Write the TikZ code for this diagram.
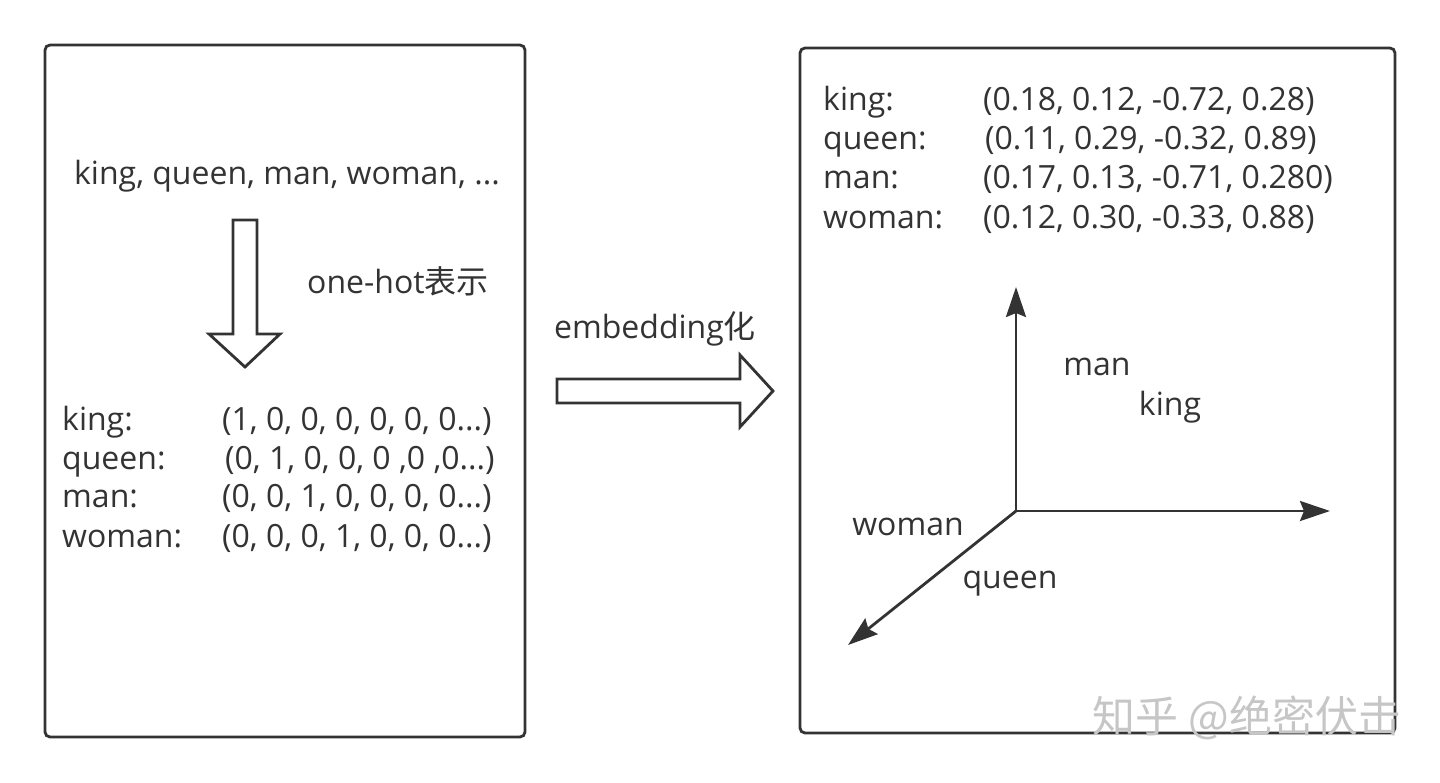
\documentclass[tikz,border=0pt]{standalone}
\usepackage{fontspec}
\setmainfont{Open Sans}
\newfontfamily\cjk{Noto Sans CJK SC}
\usetikzlibrary{arrows.meta}

\definecolor{ink}{HTML}{333333}

\begin{document}
\begin{tikzpicture}[x=1pt,y=-1pt,>={Stealth[length=30pt,width=20pt,inset=4pt]},
  txt/.style={text=ink,font=\fontsize{32}{38}\selectfont,inner sep=0pt,
    text height=0.75em,text depth=0.25em},
  box/.style={draw=ink,line width=2.8pt,rounded corners=5pt},
  hollow/.style={draw=ink,line width=2.8pt,fill=white,line join=miter},
  axis/.style={draw=ink,line width=2.8pt,->}]
\useasboundingbox (0,0) rectangle (1440,782);
% two panels
\draw[box] (45,45) rectangle (525,737);
\draw[box] (800,48) rectangle (1395,733);

% left panel: words and one-hot vectors
\node[txt] (words) at (287,182) {king, queen, man, woman, ...};
\draw[hollow] (233,220)--(257,220)--(257,334)--(280,334)--(245,367)--(209,334)--(233,334)--cycle;
\node[txt,anchor=west] (onehot) at (307,291) {one-hot{\cjk 表示}};
\node[txt,anchor=west] (k1) at (62,428) {king:};
\node[txt,anchor=west] (q1) at (62,467) {queen:};
\node[txt,anchor=west] (m1) at (62,505) {man:};
\node[txt,anchor=west] (w1) at (62,545) {woman:};
\node[txt,anchor=west] (kv1) at (222,428) {(1, 0, 0, 0, 0, 0, 0...)};
\node[txt,anchor=west] (qv1) at (225,467) {(0, 1, 0, 0, 0 ,0 ,0...)};
\node[txt,anchor=west] (mv1) at (222,505) {(0, 0, 1, 0, 0, 0, 0...)};
\node[txt,anchor=west] (wv1) at (222,545) {(0, 0, 0, 1, 0, 0, 0...)};

% middle: embedding arrow
\node[txt] (embed) at (655,336) {embedding{\cjk 化}};
\draw[hollow] (557,379)--(740,379)--(740,355)--(773,391)--(740,427)--(740,403)--(557,403)--cycle;

% right panel: dense vectors
\node[txt,anchor=west] (k2) at (823,108) {king:};
\node[txt,anchor=west] (q2) at (823,147) {queen:};
\node[txt,anchor=west] (m2) at (823,186) {man:};
\node[txt,anchor=west] (w2) at (823,226) {woman:};
\node[txt,anchor=west] (kv2) at (983,108) {(0.18, 0.12, -0.72, 0.28)};
\node[txt,anchor=west] (qv2) at (985,147) {(0.11, 0.29, -0.32, 0.89)};
\node[txt,anchor=west] (mv2) at (983,186) {(0.17, 0.13, -0.71, 0.280)};
\node[txt,anchor=west] (wv2) at (983,226) {(0.12, 0.30, -0.33, 0.88)};

% axes
\coordinate (o) at (1016,511);
\coordinate (up) at (1016,287);
\coordinate (right) at (1330,511);
\coordinate (front) at (848,645);
\draw[axis] (o)--(up);
\draw[axis] (o)--(right);
\draw[axis] (o)--(front);
\node[txt] (man) at (1097,373) {man};
\node[txt] (king) at (1170,413) {king};
\node[txt] (woman) at (908,533) {woman};
\node[txt] (queen) at (1010,586) {queen};

% watermark
\node[text=gray!45,font=\cjk\fontsize{43}{45}\selectfont,inner sep=0pt] (mark) at (1247,718) {知乎 @绝密伏击};
\end{tikzpicture}
\end{document}
